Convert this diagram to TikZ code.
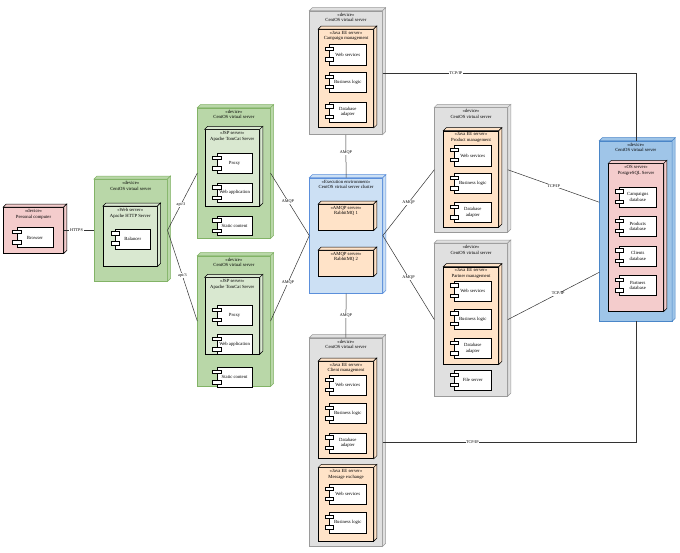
\documentclass[tikz,border=0pt]{standalone}
\usepackage{xcolor}
\usepackage{fontspec}
\setmainfont{Liberation Serif}

\definecolor{pinkfill}{HTML}{F4CCCC}
\definecolor{greenfill}{HTML}{B9D7A8}
\definecolor{greenline}{HTML}{82B366}
\definecolor{palegreen}{HTML}{D9E8D0}
\definecolor{greyfill}{HTML}{E0E0E0}
\definecolor{greyline}{HTML}{9A9A9A}
\definecolor{peachfill}{HTML}{FFE3C8}
\definecolor{skyfill}{HTML}{CCE0F4}
\definecolor{skyline}{HTML}{5B8FDB}
\definecolor{bluefill}{HTML}{9FC5E8}
\definecolor{blueline}{HTML}{4A86C8}

\tikzset{
    cubebox/.style={draw,inner sep=0pt,anchor=north west,line width=.5pt},
    cubetext/.style={anchor=north,align=center,inner sep=0pt,font=\fontsize{4.7}{5.6}\selectfont},
    compbox/.style={draw=black,fill=white,inner sep=0pt,anchor=north west,line width=.5pt,align=center,font=\fontsize{4.7}{5.6}\selectfont},
    portbox/.style={draw=black,fill=white,inner sep=0pt,minimum width=8.6pt,minimum height=3.3pt,line width=.4pt},
    conline/.style={draw=black!80,line width=.5pt},
    conlabel/.style={fill=white,inner sep=.6pt,font=\fontsize{4.2}{5}\selectfont}
}

% name, x, y, w, h, look, text
\newcommand{\cubeshape}[7]{
    \node[cubebox,#6,minimum width=#4pt,minimum height=#5pt] (#1) at (#2,#3) {};
    \draw[#6,line width=.5pt] (#1.north west) -- ++(3,-3) -- ([shift={(3,-3)}]#1.north east) -- (#1.north east) -- cycle;
    \draw[#6,line width=.5pt] (#1.north east) -- ([shift={(3,-3)}]#1.north east) -- ([shift={(3,-3)}]#1.south east) -- (#1.south east) -- cycle;
    \node[cubetext] (#1t) at ([shift={(0,2)}]#1.north) {#7};
}
% name, x, y, w, h, text
\newcommand{\compshape}[6]{
    \node[compbox,minimum width=#4pt,minimum height=#5pt] (#1) at (#2,#3) {#6};
    \node[portbox] (#1a) at ([shift={(0,4.6)}]#1.north west) {};
    \node[portbox] (#1b) at ([shift={(0,14.8)}]#1.north west) {};
}

\begin{document}
\begin{tikzpicture}[x=1pt,y=-1pt]
    \useasboundingbox (0,0) rectangle (680,552);

    \cubeshape{pc}{3.3}{207}{60}{46}{draw=black,fill=pinkfill}{<<device>>\\Personal computer}
    \compshape{browser}{16.7}{227.3}{36}{20}{Browser}

    \cubeshape{http}{94}{179}{73}{102}{draw=greenline,fill=greenfill}{<<device>>\\CentOS virtual server}
    \cubeshape{httpin}{103}{206}{54}{60}{draw=black,fill=palegreen}{<<Web server>>\\Apache HTTP Server}
    \compshape{balancer}{115}{228.5}{35}{20}{Balancer}

    \cubeshape{tomone}{197.3}{107.7}{72.7}{130.3}{draw=greenline,fill=greenfill}{<<device>>\\CentOS virtual server}
    \cubeshape{tomonein}{204.7}{129.3}{54.6}{76.4}{draw=black,fill=palegreen}{<<JSP server>>\\Apache TomCat Server}
    \compshape{proxyone}{216.7}{153.3}{35.3}{19.5}{Proxy}
    \compshape{webone}{216.7}{182.7}{35.3}{19.5}{Web application}
    \compshape{staticone}{216.7}{215.7}{35.3}{19.5}{Static content}

    \cubeshape{tomtwo}{197.3}{255.7}{72.7}{130.3}{draw=greenline,fill=greenfill}{<<device>>\\CentOS virtual server}
    \cubeshape{tomtwoin}{204.7}{277.3}{54.6}{76.4}{draw=black,fill=palegreen}{<<JSP server>>\\Apache TomCat Server}
    \compshape{proxytwo}{216.7}{305}{35.3}{19.5}{Proxy}
    \compshape{webtwo}{216.7}{334.4}{35.3}{19.5}{Web application}
    \compshape{statictwo}{216.7}{367.4}{35.3}{19.5}{Static content}

    \cubeshape{camp}{309.3}{10.7}{72.7}{123.6}{draw=greyline,fill=greyfill}{<<device>>\\CentOS virtual server}
    \cubeshape{campin}{318.3}{29}{55}{98.3}{draw=black,fill=peachfill}{<<Java EE server>>\\Campaign management}
    \compshape{campweb}{329.3}{44.3}{36.4}{20.4}{Web services}
    \compshape{campbiz}{329.3}{72}{36.4}{20.4}{Business logic}
    \compshape{campdb}{329.3}{101.7}{36.4}{20}{Database\\adapter}

    \cubeshape{rabbit}{309.3}{177.7}{73}{115.3}{draw=skyline,fill=skyfill}{<<Execution environment>>\\CentOS virtual server cluster}
    \cubeshape{mqone}{318.3}{204}{55}{26}{draw=black,fill=peachfill}{<<AMQP server>>\\RabbitMQ 1}
    \cubeshape{mqtwo}{318.3}{250}{55}{26}{draw=black,fill=peachfill}{<<AMQP server>>\\RabbitMQ 2}

    \cubeshape{client}{309.3}{337.7}{72.7}{208.3}{draw=greyline,fill=greyfill}{<<device>>\\CentOS virtual server}
    \cubeshape{clientin}{318.3}{361}{55}{97.3}{draw=black,fill=peachfill}{<<Java EE server>>\\Client management}
    \compshape{clientweb}{329.3}{375}{36.4}{20}{Web services}
    \compshape{clientbiz}{329.3}{403.3}{36.4}{20}{Business logic}
    \compshape{clientdb}{329.3}{432.7}{36.4}{20}{Database\\adapter}
    \cubeshape{msgin}{318.3}{467.3}{55}{73.4}{draw=black,fill=peachfill}{<<Java EE server>>\\Message exchange}
    \compshape{msgweb}{329.3}{484}{36.4}{20}{Web services}
    \compshape{msgbiz}{329.3}{512.3}{36.4}{20.4}{Business logic}

    \cubeshape{prod}{434.3}{107.3}{73}{124.4}{draw=greyline,fill=greyfill}{<<device>>\\CentOS virtual server}
    \cubeshape{prodin}{443.3}{130.7}{55}{96}{draw=black,fill=peachfill}{<<Java EE server>>\\Product management}
    \compshape{prodweb}{454.3}{145}{36.4}{20.5}{Web services}
    \compshape{prodbiz}{454.3}{173.3}{36.4}{20}{Business logic}
    \compshape{proddb}{454.3}{202.3}{36.4}{20}{Database\\adapter}

    \cubeshape{part}{434.3}{243}{73}{152.7}{draw=greyline,fill=greyfill}{<<device>>\\CentOS virtual server}
    \cubeshape{partin}{443.3}{266.7}{55}{97.3}{draw=black,fill=peachfill}{<<Java EE server>>\\Partner management}
    \compshape{partweb}{454.3}{280.7}{36.4}{20}{Web services}
    \compshape{partbiz}{454.3}{308.7}{36.4}{20.3}{Business logic}
    \compshape{partdb}{454.3}{338.3}{36.4}{20}{Database\\adapter}
    \compshape{partfile}{454.3}{370}{36.4}{20}{File server}

    \cubeshape{pg}{599.3}{140.7}{72.4}{180}{draw=blueline,fill=bluefill}{<<device>>\\CentOS virtual server}
    \cubeshape{pgin}{608.3}{163.3}{55}{147.7}{draw=black,fill=pinkfill}{<<OS server>>\\PostgreSQL Server}
    \compshape{pgcamp}{619.3}{186.7}{36.4}{20}{Campaigns\\database}
    \compshape{pgprod}{619.3}{216}{36.4}{20}{Products\\database}
    \compshape{pgclient}{619.3}{245.7}{36.4}{20}{Clients\\database}
    \compshape{pgpart}{619.3}{275.3}{36.4}{20}{Partners\\database}

    % connectors
    \draw[conline] (pc.east) -- node[conlabel,pos=.42] (httpslbl) {HTTPS} (http.west);
    \draw[conline] (http.east) -- node[conlabel,pos=.45] (apione) {api/3} (tomone.west);
    \draw[conline] (http.east) -- node[conlabel] (apitwo) {api/3} (tomtwo.west);
    \draw[conline] (tomone.east) -- node[conlabel,pos=.45] (amqpone) {AMQP} (rabbit.west);
    \draw[conline] (tomtwo.east) -- node[conlabel,pos=.45] (amqptwo) {AMQP} (rabbit.west);
    \draw[conline] (camp.south) -- node[conlabel,pos=.42] (amqpthree) {AMQP} (rabbit.north);
    \draw[conline] (rabbit.south) -- node[conlabel] (amqpfour) {AMQP} (client.north);
    \draw[conline] (rabbit.east) -- node[conlabel] (amqpfive) {AMQP} (prod.west);
    \draw[conline] (rabbit.east) -- node[conlabel] (amqpsix) {AMQP} (part.west);
    \draw[conline] (prod.east) -- node[conlabel] (tcpone) {TCP/IP} ([yshift=28.7pt]pg.west);
    \draw[conline] (part.east) -- node[conlabel,pos=.55] (tcptwo) {TCP/IP} ([yshift=-41.3pt]pg.west);
    \draw[conline] (camp.east) -- node[conlabel,pos=.29] (tcpthree) {TCP/IP} (camp.east -| pg.north) -- (pg.north);
    \draw[conline] (client.east) -- node[conlabel,pos=.355] (tcpfour) {TCP/IP} (client.east -| pg.south) -- (pg.south);
\end{tikzpicture}
\end{document}
